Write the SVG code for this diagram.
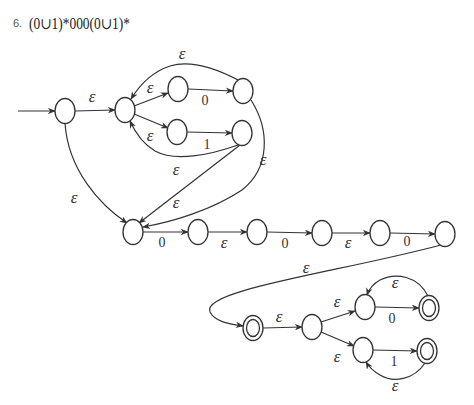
<svg xmlns="http://www.w3.org/2000/svg" width="474" height="405" viewBox="0 0 474 405">
<defs>
<marker id="ah" viewBox="0 0 10 8" refX="9" refY="4" markerWidth="8" markerHeight="6.4" orient="auto" markerUnits="userSpaceOnUse">
<path d="M0,0 L10,4 L0,8 L3,4 z" fill="#333"/>
</marker>
<style>
.n{fill:#fff;stroke:#333;stroke-width:1.3}
.e{fill:none;stroke:#333;stroke-width:1.2;marker-end:url(#ah)}
.l{font-family:"Liberation Serif","DejaVu Serif",serif;font-size:14px;fill:#333;text-anchor:middle}
.eps{font-style:italic;font-size:17px}
</style>
</defs>
<rect width="474" height="405" fill="#fff"/>
<text x="13" y="27" font-family="'Liberation Sans', sans-serif" font-size="11" fill="#555">6.</text>
<text x="29" y="29" font-family="'Liberation Serif', 'DejaVu Serif', serif" font-size="16" fill="#222" textLength="101" lengthAdjust="spacingAndGlyphs">(0∪1)*000(0∪1)*</text>
<g id="connectors">
<path class="e" d="M18,111 L55,111"/>
<path class="e" d="M75,111 L115,110"/>
<path class="e" d="M134,106 L168,93"/>
<path class="e" d="M188,89 L233,91"/>
<path class="e" d="M238,80 C215,68 190,60 170,66 C152,72 139,86 131,99"/>
<path class="e" d="M134,114 L168,128"/>
<path class="e" d="M187,132 L232,133"/>
<path class="e" d="M238,145 C210,155 175,162 155,151 C143,144 135,132 130,121"/>
<path class="e" d="M240,145 L139,223"/>
<path class="e" d="M251,100 C270,130 270,168 242,190 C212,210 172,222 143,227"/>
<path class="e" d="M65,123 C68,170 100,205 127,223"/>
<path class="e" d="M143,232 L188,232"/>
<path class="e" d="M208,232 L247,232"/>
<path class="e" d="M267,232 L312,233"/>
<path class="e" d="M332,233 L370,233"/>
<path class="e" d="M390,233 L435,234"/>
<path class="e" d="M441,245 C340,272 200,290 210,312 C215,322 230,324 243,326"/>
<path class="e" d="M263,328 L302,327"/>
<path class="e" d="M321,322 L355,311"/>
<path class="e" d="M375,307 L419,308"/>
<path class="e" d="M428,296 C418,276 396,272 380,280 C373,284 369,289 367,295"/>
<path class="e" d="M321,332 L354,346"/>
<path class="e" d="M373,350 L417,351"/>
<path class="e" d="M425,363 C414,380 393,383 380,375 C373,371 369,367 366,362"/>
</g>
<g id="labels">
<text class="l eps" x="92" y="102">ε</text>
<text class="l eps" x="150" y="93">ε</text>
<text class="l" x="205" y="105">0</text>
<text class="l eps" x="182" y="59">ε</text>
<text class="l eps" x="150" y="141">ε</text>
<text class="l" x="207" y="149">1</text>
<text class="l eps" x="176" y="175">ε</text>
<text class="l eps" x="176" y="208">ε</text>
<text class="l eps" x="263" y="165">ε</text>
<text class="l eps" x="74" y="203">ε</text>
<text class="l" x="162" y="247">0</text>
<text class="l eps" x="224" y="248">ε</text>
<text class="l" x="285" y="248">0</text>
<text class="l eps" x="348" y="248">ε</text>
<text class="l" x="407" y="246">0</text>
<text class="l eps" x="306" y="273">ε</text>
<text class="l eps" x="279" y="322">ε</text>
<text class="l eps" x="337" y="307">ε</text>
<text class="l" x="392" y="323">0</text>
<text class="l eps" x="395" y="288">ε</text>
<text class="l eps" x="337" y="362">ε</text>
<text class="l" x="394" y="366">1</text>
<text class="l eps" x="395" y="391">ε</text>
</g>
<g id="nA"><ellipse class="n" cx="65" cy="111" rx="10" ry="12.5"/></g>
<g id="nB"><ellipse class="n" cx="125" cy="110" rx="10" ry="12.5"/></g>
<g id="nC"><ellipse class="n" cx="178" cy="89" rx="10" ry="12.5"/></g>
<g id="nD"><ellipse class="n" cx="243" cy="91" rx="10" ry="12.5"/></g>
<g id="nE"><ellipse class="n" cx="177" cy="132" rx="10" ry="12.5"/></g>
<g id="nF"><ellipse class="n" cx="242" cy="133" rx="10" ry="12.5"/></g>
<g id="nG"><ellipse class="n" cx="133" cy="232" rx="10" ry="12.5"/></g>
<g id="n1"><ellipse class="n" cx="198" cy="232" rx="10" ry="12.5"/></g>
<g id="n2"><ellipse class="n" cx="257" cy="232" rx="10" ry="12.5"/></g>
<g id="n3"><ellipse class="n" cx="322" cy="233" rx="10" ry="12.5"/></g>
<g id="n4"><ellipse class="n" cx="380" cy="233" rx="10" ry="12.5"/></g>
<g id="n5"><ellipse class="n" cx="445" cy="234" rx="10" ry="12.5"/></g>
<g id="nP"><ellipse class="n" cx="253" cy="328" rx="10" ry="12.5"/><ellipse class="n" cx="253" cy="328" rx="6.5" ry="8.5"/></g>
<g id="nQ"><ellipse class="n" cx="312" cy="327" rx="10" ry="12.5"/></g>
<g id="nR"><ellipse class="n" cx="365" cy="307" rx="10" ry="12.5"/></g>
<g id="nS"><ellipse class="n" cx="429" cy="308" rx="10" ry="12.5"/><ellipse class="n" cx="429" cy="308" rx="6.5" ry="8.5"/></g>
<g id="nT"><ellipse class="n" cx="363" cy="350" rx="10" ry="12.5"/></g>
<g id="nU"><ellipse class="n" cx="427" cy="351" rx="10" ry="12.5"/><ellipse class="n" cx="427" cy="351" rx="6.5" ry="8.5"/></g>
</svg>
